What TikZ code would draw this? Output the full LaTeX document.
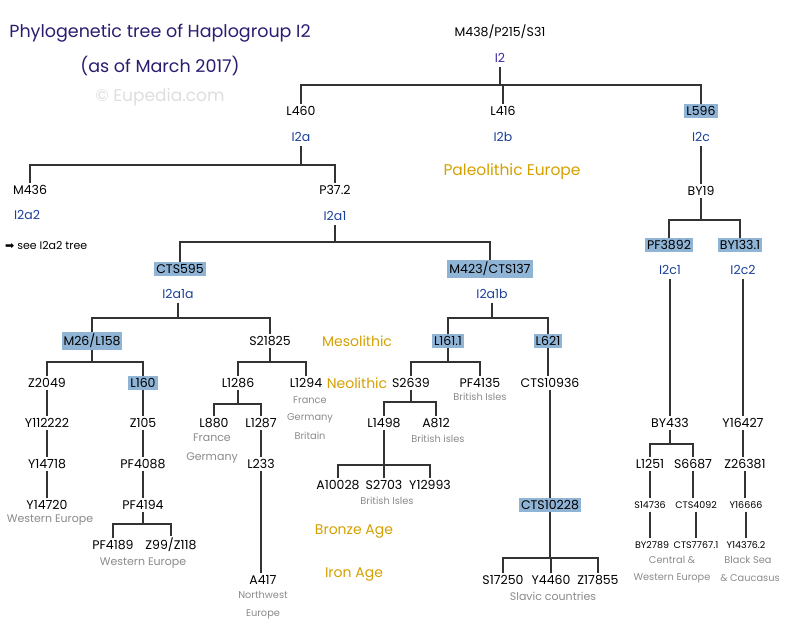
\documentclass[tikz,border=0pt]{standalone}
\usepackage{fontspec}
\setmainfont{Poppins}
\newfontfamily\dvs{DejaVu Sans}
\definecolor{hl}{HTML}{8FB4D6}
\definecolor{bl}{HTML}{1A3F9A}
\definecolor{pu}{HTML}{3A2AA0}
\definecolor{og}{HTML}{D4A000}
\definecolor{gr}{HTML}{8A8A8A}
\begin{document}
\begin{tikzpicture}[x=1pt,y=-1pt,
  t/.style={font=\fontsize{12.5}{14}\selectfont,inner sep=2pt},
  s/.style={font=\fontsize{9.5}{11}\selectfont,inner sep=3pt},
  h/.style={t,fill=hl},
  sub/.style={font=\fontsize{12.5}{14}\selectfont,text=bl,inner sep=4pt},
  reg/.style={font=\fontsize{11}{13}\selectfont,text=gr,inner sep=1pt},
  regs/.style={reg,font=\fontsize{9.8}{11}\selectfont},
  age/.style={font=\fontsize{14}{16}\selectfont,text=og},
  ln/.style={draw=black!80,line width=1.2pt}]
\useasboundingbox (0,0) rectangle (791,621);
\newcommand{\br}[3]{\draw[ln] (#1.south) -- (#1.south |- 0,#2);
  \foreach \c in {#3} {\draw[ln] (\c.north) |- (#1.south |- 0,#2);}}
\newcommand{\ch}[2]{\draw[ln] (#1.south) -- (#1.south |- #2.north);}
% title
\node[font=\fontsize{17.5}{20}\selectfont,text=pu!70!black] (title) at (160,33) {Phylogenetic tree of Haplogroup I2};
\node[font=\fontsize{17.5}{20}\selectfont,text=pu!70!black] (date) at (160,66) {(as of March 2017)};
\node[font=\fontsize{17}{19}\selectfont,text=black!13] (copy) at (160,97) {© Eupedia.com};
% top
\node[t] (top) at (500,32) {M438/P215/S31};
\node[sub,text=pu] (i2) at (500,58) {I2};
\node[t] (l460) at (301,111) {L460};
\node[sub] (i2a) at (301,137) {I2a};
\node[t] (l416) at (503,111) {L416};
\node[sub] (i2b) at (503,137) {I2b};
\node[h] (l596) at (701,111) {L596};
\node[sub] (i2c) at (701,137) {I2c};
\br{i2}{85}{l460,l416,l596}
\node[t] (m436) at (30,190) {M436};
\node[sub] (i2a2) at (27,215) {I2a2};
\node[s,anchor=west,font=\fontsize{11}{12}\selectfont] (see) at (2,245) {{\dvs ➡} see I2a2 tree};
\node[t] (p372) at (335,190) {P37.2};
\node[sub] (i2a1) at (335,216) {I2a1};
\br{i2a}{165}{m436,p372}
\node[age,font=\fontsize{15.5}{17}\selectfont] (paleo) at (512,172) {Paleolithic Europe};
\node[h] (cts595) at (180,269) {CTS595};
\node[sub] (i2a1a) at (178,294) {I2a1a};
\node[h] (m423) at (490,269) {M423/CTS137};
\node[sub] (i2a1b) at (492,294) {I2a1b};
\br{i2a1}{242}{cts595,m423}
% I2a1a
\node[h] (m26) at (92,341) {M26/L158};
\node[t] (s21825) at (270,341) {S21825};
\br{i2a1a}{318}{m26,s21825}
\node[age] (meso) at (357,341) {Mesolithic};
\node[t] (z2049) at (47,383) {Z2049};
\node[h] (l160) at (143,383) {L160};
\br{m26}{362}{z2049,l160}
\node[t] (y112222) at (47,423) {Y112222};
\node[t] (y14718) at (47,464) {Y14718};
\node[t] (y14720) at (47,505) {Y14720};
\node[reg] (we1) at (50,520) {Western Europe};
\ch{z2049}{y112222}\ch{y112222}{y14718}\ch{y14718}{y14720}
\node[t] (z105) at (143,423) {Z105};
\node[t] (pf4088) at (143,464) {PF4088};
\node[t] (pf4194) at (143,505) {PF4194};
\ch{l160}{z105}\ch{z105}{pf4088}\ch{pf4088}{pf4194}
\node[t] (pf4189) at (113,545) {PF4189};
\node[t] (z99) at (171,545) {Z99/Z118};
\br{pf4194}{524}{pf4189,z99}
\node[reg] (we2) at (143,563) {Western Europe};
\node[t] (l1286) at (238,383) {L1286};
\node[t] (l1294) at (306,383) {L1294};
\br{s21825}{362}{l1286,l1294}
\node[age] (neo) at (357,383) {Neolithic};
\node[regs] (fr1) at (310,400) {France};
\node[regs] (ge1) at (310,418) {Germany};
\node[regs] (bt1) at (310,436) {Britain};
\node[t] (l880) at (214,423) {L880};
\node[t] (l1287) at (261,423) {L1287};
\br{l1286}{404}{l880,l1287}
\node[reg] (fr2) at (212,438) {France};
\node[reg] (ge2) at (212,458) {Germany};
\node[t] (l233) at (261,464) {L233};
\node[t] (a417) at (263,580) {A417};
\node[regs] (nw) at (263,595) {Northwest};
\node[regs] (eu) at (263,614) {Europe};
\ch{l1287}{l233}\ch{l233}{a417}
% I2a1b
\node[h] (l161) at (448,341) {L161.1};
\node[h] (l621) at (548,341) {L621};
\br{i2a1b}{318}{l161,l621}
\node[t] (s2639) at (411,383) {S2639};
\node[t] (pf4135) at (480,383) {PF4135};
\node[regs] (bi1) at (480,397) {British Isles};
\br{l161}{362}{s2639,pf4135}
\node[t] (l1498) at (384,423) {L1498};
\node[t] (a812) at (436,423) {A812};
\node[regs] (bi2) at (438,439) {British isles};
\br{s2639}{402}{l1498,a812}
\node[t] (a10028) at (338,485) {A10028};
\node[t] (s2703) at (384,485) {S2703};
\node[t] (y12993) at (430,485) {Y12993};
\node[regs] (bi3) at (387,501) {British Isles};
\br{l1498}{465}{a10028,s2703,y12993}
\node[t] (cts10936) at (550,383) {CTS10936};
\node[h] (cts10228) at (550,505) {CTS10228};
\ch{l621}{cts10936}\ch{cts10936}{cts10228}
\node[t] (s17250) at (503,580) {S17250};
\node[t] (y4460) at (551,580) {Y4460};
\node[t] (z17855) at (598,580) {Z17855};
\br{cts10228}{558}{s17250,y4460,z17855}
\node[reg] (slav) at (553,596) {Slavic countries};
\node[age] (bronze) at (354,532) {Bronze Age};
\node[age] (iron) at (354,574) {Iron Age};
% I2c
\node[t] (by19) at (701,191) {BY19};
\ch{i2c}{by19}
\node[h] (pf3892) at (669,245) {PF3892};
\node[h] (by133) at (740,245) {BY133.1};
\br{by19}{220}{pf3892,by133}
\node[sub] (i2c1) at (670,270) {I2c1};
\node[sub] (i2c2) at (743,270) {I2c2};
\node[t] (by433) at (670,423) {BY433};
\node[t] (y16427) at (743,423) {Y16427};
\ch{i2c1}{by433}\ch{i2c2}{y16427}
\node[t] (l1251) at (650,464) {L1251};
\node[t] (s6687) at (693,464) {S6687};
\br{by433}{444}{l1251,s6687}
\node[t] (z26381) at (745,464) {Z26381};
\node[s] (y16666) at (746,505) {Y16666};
\node[s] (y14376) at (746,545) {Y14376.2};
\ch{y16427}{z26381}\ch{z26381}{y16666}\ch{y16666}{y14376}
\node[s] (s14736) at (650,505) {S14736};
\node[s] (by2789) at (652,545) {BY2789};
\ch{l1251}{s14736}\ch{s14736}{by2789}
\node[s] (cts4092) at (696,505) {CTS4092};
\node[s] (cts7767) at (696,545) {CTS7767.1};
\ch{s6687}{cts4092}\ch{cts4092}{cts7767}
\node[regs] (ce) at (672,560) {Central \&};
\node[regs] (we3) at (672,578) {Western Europe};
\node[regs] (bs) at (748,560) {Black Sea};
\node[regs] (cc) at (750,578) {\& Caucasus};
\end{tikzpicture}
\end{document}
